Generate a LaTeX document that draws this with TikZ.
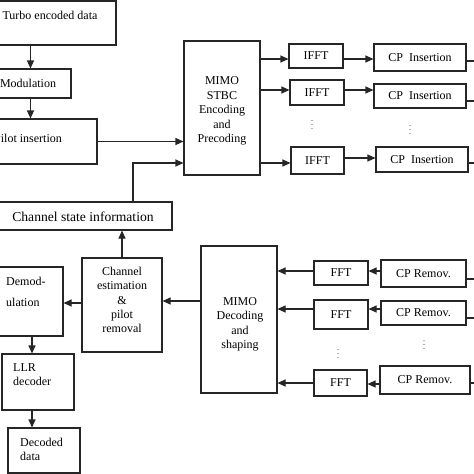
\documentclass[tikz,border=0pt]{standalone}
\usepackage{fontspec}
\setmainfont{Liberation Serif}
\usetikzlibrary{arrows.meta}
\begin{document}
\begin{tikzpicture}[x=1pt,y=-1pt,
 box/.style={draw=black!85,line width=1.1pt,inner sep=0pt,font=\fontsize{12}{14.5}\selectfont},
 lbl/.style={font=\fontsize{12}{14.5}\selectfont,inner sep=0pt,align=center},
 arr/.style={draw=black!85,line width=1.1pt,-{Triangle[length=8pt,width=7pt]}},
 ln/.style={draw=black!85,line width=1.1pt},
 dts/.style={inner sep=0pt,font=\fontsize{8}{8}\selectfont}]
\useasboundingbox (0,0) rectangle (474,474);
\clip (0,0) rectangle (474,474);
% transmitter chain
\node[box,minimum width=126pt,minimum height=44pt] (turbo) at (53,23) {};
\node[lbl] (turbo-t) at (50,15) {Turbo encoded data};
\node[box,minimum width=81pt,minimum height=29pt] (mod) at (30.5,83.5) {};
\node[lbl] (mod-t) at (28,83) {Modulation};
\node[box,minimum width=107pt,minimum height=45pt] (pilot) at (43.5,141.5) {};
\node[lbl] (pilot-t) at (28,138) {Pilot insertion};
\node[box,minimum width=76pt,minimum height=134pt] (mimo1) at (222,108) {};
\node[lbl] (mimo1-t) at (222,111) {MIMO\\STBC\\Encoding\\and\\Precoding};
\node[box,minimum width=177pt,minimum height=28pt] (csi) at (83.5,216) {};
\node[lbl,font=\fontsize{13.6}{16}\selectfont] (csi-t) at (83,217) {Channel state information};
% IFFT / CP insertion rows
\node[box,minimum width=54pt,minimum height=24pt] (ifft1) at (316,56) {IFFT};
\node[box,minimum width=92pt,minimum height=27pt] (cpi1) at (420,57.5) {CP\enspace Insertion};
\node[box,minimum width=54pt,minimum height=25pt] (ifft2) at (317,92.5) {IFFT};
\node[box,minimum width=92pt,minimum height=24pt] (cpi2) at (420,96) {CP\enspace Insertion};
\node[box,minimum width=53pt,minimum height=27pt] (ifft3) at (317.5,160.5) {IFFT};
\node[box,minimum width=92pt,minimum height=25pt] (cpi3) at (422,159.5) {CP\enspace Insertion};
\node[dts] (d1) at (312,122) {$\vdots$};
\node[dts] (d2) at (410,127) {$\vdots$};
% receiver
\node[box,minimum width=76pt,minimum height=147pt] (mimo2) at (239,319.5) {};
\node[lbl] (mimo2-t) at (240,324.5) {MIMO\\Decoding\\and\\shaping};
\node[box,minimum width=80pt,minimum height=94pt] (chest) at (122,305) {};
\node[lbl,font=\fontsize{12}{14.25}\selectfont] (chest-t) at (122,300) {Channel\\estimation\\\&\\pilot\\removal};
\node[box,minimum width=73pt,minimum height=69pt] (demod) at (26.5,301.5) {};
\node[lbl,align=left,anchor=west,font=\fontsize{12}{21}\selectfont] (demod-t) at (6,291.5) {Demod-\\ulation};
\node[box,minimum width=72pt,minimum height=56pt] (llr) at (38,382) {};
\node[lbl,align=left,anchor=west,font=\fontsize{12}{14}\selectfont] (llr-t) at (13,375) {LLR\\decoder};
\node[box,minimum width=72pt,minimum height=45pt] (dec) at (44,450.5) {};
\node[lbl,align=left,anchor=west,font=\fontsize{12}{14}\selectfont] (dec-t) at (20,449) {Decoded\\data};
% FFT / CP removal rows
\node[box,minimum width=54pt,minimum height=24pt] (fft1) at (341,273) {FFT};
\node[box,minimum width=85pt,minimum height=27pt] (cpr1) at (423.5,273.5) {CP Remov.};
\node[box,minimum width=54pt,minimum height=29pt] (fft2) at (341,314.5) {FFT};
\node[box,minimum width=85pt,minimum height=24pt] (cpr2) at (423.5,313) {CP Remov.};
\node[box,minimum width=53pt,minimum height=26pt] (fft3) at (340.5,383) {FFT};
\node[box,minimum width=90pt,minimum height=28pt] (cpr3) at (425,380) {CP Remov.};
\node[dts] (d3) at (338,351) {$\vdots$};
\node[dts] (d4) at (424,342.5) {$\vdots$};
% helper coordinates
\coordinate (k1) at (133,163);
\coordinate (ya) at (0,59);
\coordinate (yb) at (0,90);
\coordinate (yc) at (0,163);
\coordinate (yc2) at (0,158);
\coordinate (o1) at (480,61);
\coordinate (o2) at (480,101);
\coordinate (o3) at (480,163);
\coordinate (i1) at (480,279);
\coordinate (i2) at (480,318);
\coordinate (i3) at (480,383);
\coordinate (r1) at (0,271);
\coordinate (r2) at (0,309);
\coordinate (r3) at (0,384);
\coordinate (r3b) at (0,383);
\coordinate (k2) at (0,301);
\coordinate (k3) at (0,303);
\coordinate (k4) at (32,0);
% connectors transmitter
\draw[arr] (turbo.south -| mod.north) -- (mod.north);
\draw[arr] (mod.south) -- (mod.south |- pilot.north);
\draw[arr] (pilot.east) -- (pilot.east -| mimo1.west);
\draw[arr] (k1 |- csi.north) -- (k1) -- (k1 -| mimo1.west);
\draw[arr] (mimo1.east |- ya) -- (ifft1.west |- ya);
\draw[arr] (mimo1.east |- yb) -- (ifft2.west |- yb);
\draw[arr] (mimo1.east |- yc) -- (ifft3.west |- yc);
\draw[arr] (ifft1.east |- ya) -- (cpi1.west |- ya);
\draw[arr] (ifft2.east |- yb) -- (cpi2.west |- yb);
\draw[arr] (ifft3.east |- yc2) -- (cpi3.west |- yc2);
\draw[ln] (cpi1.east |- o1) -- (o1);
\draw[ln] (cpi2.east |- o2) -- (o2);
\draw[ln] (cpi3.east |- o3) -- (o3);
% connectors receiver
\draw[ln] (i1) -- (cpr1.east |- i1);
\draw[ln] (i2) -- (cpr2.east |- i2);
\draw[ln] (i3) -- (cpr3.east |- i3);
\draw[arr] (cpr1.west |- r1) -- (fft1.east |- r1);
\draw[arr] (cpr2.west |- r2) -- (fft2.east |- r2);
\draw[arr] (cpr3.west |- r3) -- (fft3.east |- r3);
\draw[arr] (fft1.west |- r1) -- (mimo2.east |- r1);
\draw[arr] (fft2.west |- r2) -- (mimo2.east |- r2);
\draw[arr] (fft3.west |- r3b) -- (mimo2.east |- r3b);
\draw[arr] (mimo2.west |- k2) -- (chest.east |- k2);
\draw[arr] (chest.north) -- (chest.north |- csi.south);
\draw[arr] (chest.west |- k3) -- (demod.east |- k3);
\draw[arr] (k4 |- demod.south) -- (k4 |- llr.north);
\draw[arr] (k4 |- llr.south) -- (k4 |- dec.north);
\end{tikzpicture}
\end{document}
